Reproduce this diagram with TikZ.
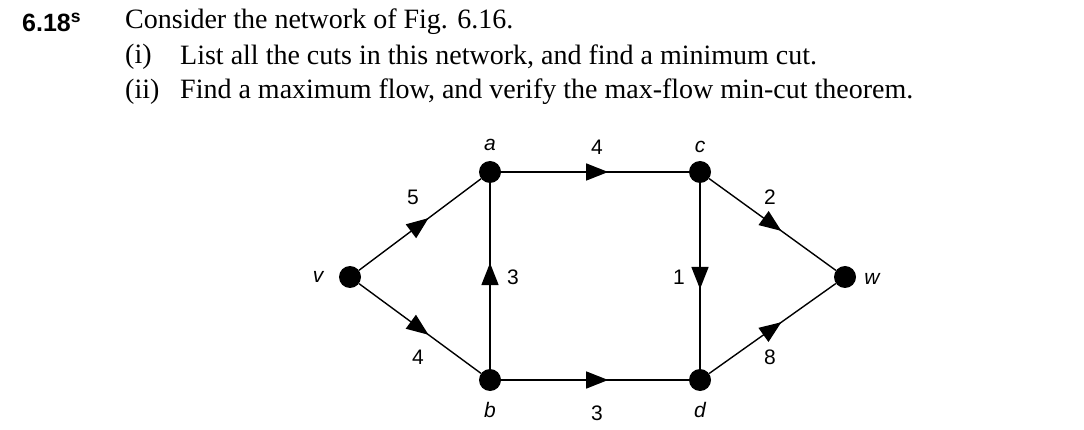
\documentclass[tikz,border=0pt]{standalone}
\usepackage{fontspec}
\setmainfont{Liberation Serif}
\newfontfamily\lsans{Liberation Sans}
\usetikzlibrary{decorations.markings,arrows.meta}
\begin{document}
\begin{tikzpicture}[x=1pt,y=-1pt,
  vtx/.style={circle,fill=black,inner sep=0pt,minimum size=22pt},
  lab/.style={font=\lsans\fontsize{21}{21}\selectfont,inner sep=1pt},
  arc/.style={line width=1.4pt,postaction={decorate},decoration={markings,mark=at position #1 with {\arrow{Triangle[length=22pt,width=17pt]}}}},
  arc/.default=0.57,
  txt/.style={anchor=west,inner sep=0pt,font=\fontsize{28}{28}\selectfont}]
\useasboundingbox (0,0) rectangle (1084,430);
\node[anchor=west,inner sep=0pt,font=\lsans\bfseries\fontsize{25}{25}\selectfont] (num) at (22,22) {6.18\textsuperscript{s}};
\node[txt] (t1) at (125,22) {Consider the network of Fig. 6.16.};
\node[txt] (t2a) at (125,57) {(i)};
\node[txt] (t2) at (180,57) {List all the cuts in this network, and find a minimum cut.};
\node[txt] (t3a) at (125,92) {(ii)};
\node[txt] (t3) at (180,92) {Find a maximum flow, and verify the max-flow min-cut theorem.};
\node[vtx] (v) at (350,277) {};
\node[vtx] (a) at (490,172) {};
\node[vtx] (c) at (700,172) {};
\node[vtx] (w) at (845,277) {};
\node[vtx] (b) at (490,380) {};
\node[vtx] (d) at (700,380) {};
\draw[arc] (v) -- (a);
\draw[arc] (v) -- (b);
\draw[arc] (a) -- (c);
\draw[arc] (b) -- (d);
\draw[arc] (b) -- (a);
\draw[arc] (c) -- (d);
\draw[arc] (c) -- (w);
\draw[arc] (d) -- (w);
\node[lab] (la) at (490,145) {\itshape a};
\node[lab] (lc) at (700,147) {\itshape c};
\node[lab] (lb) at (490,410) {\itshape b};
\node[lab] (ld) at (700,410) {\itshape d};
\node[lab] (lv) at (318,277) {\itshape v};
\node[lab] (lw) at (872,279) {\itshape w};
\node[lab] (l1) at (597,147) {4};
\node[lab] (l2) at (413,197) {5};
\node[lab] (l3) at (770,197) {2};
\node[lab] (l4) at (513,277) {3};
\node[lab] (l5) at (679,277) {1};
\node[lab] (l6) at (418,357) {4};
\node[lab] (l7) at (770,357) {8};
\node[lab] (l8) at (597,413) {3};
\end{tikzpicture}
\end{document}
